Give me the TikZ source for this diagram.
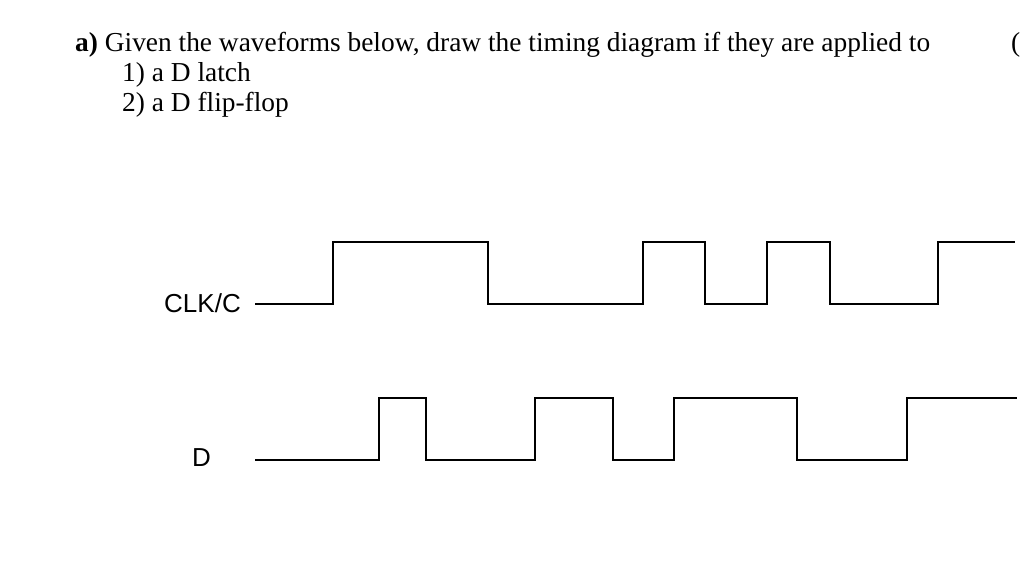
\documentclass[tikz,border=0pt]{standalone}
\usepackage{fontspec}
\setmainfont{Liberation Serif}
\newfontfamily\labelfont{Liberation Sans}
\begin{document}
\begin{tikzpicture}[x=1pt,y=-1pt,
  titletext/.style={anchor=base west,inner sep=0pt,font=\fontsize{27.4}{31}\selectfont},
  siglabel/.style={anchor=base east,inner sep=0pt,font=\labelfont\fontsize{26}{29}\selectfont},
  wave/.style={line width=2.8pt,line join=miter,line cap=butt}]
\useasboundingbox (0,0) rectangle (1024,588);
\node[titletext] (t1) at (75,52) {\textbf{a)} Given the waveforms below, draw the timing diagram if they are applied to};
\node[titletext] (t2) at (122,82) {1) a D latch};
\node[titletext] (t3) at (122,112) {2) a D flip-flop};
\node[titletext] (t4) at (1011,52) {(};
\node[siglabel] (clk) at (241,312) {CLK/C};
\node[siglabel] (d) at (211,466) {D};
% CLK waveform
\draw[wave] (255,304) -- (333,304) -- (333,242) -- (488,242) -- (488,304)
  -- (643,304) -- (643,242) -- (705,242) -- (705,304)
  -- (767,304) -- (767,242) -- (830,242) -- (830,304)
  -- (938,304) -- (938,242) -- (1015,242);
% D waveform
\draw[wave] (255,460) -- (379,460) -- (379,398) -- (426,398) -- (426,460)
  -- (535,460) -- (535,398) -- (613,398) -- (613,460)
  -- (674,460) -- (674,398) -- (797,398) -- (797,460)
  -- (907,460) -- (907,398) -- (1017,398);
\end{tikzpicture}
\end{document}
